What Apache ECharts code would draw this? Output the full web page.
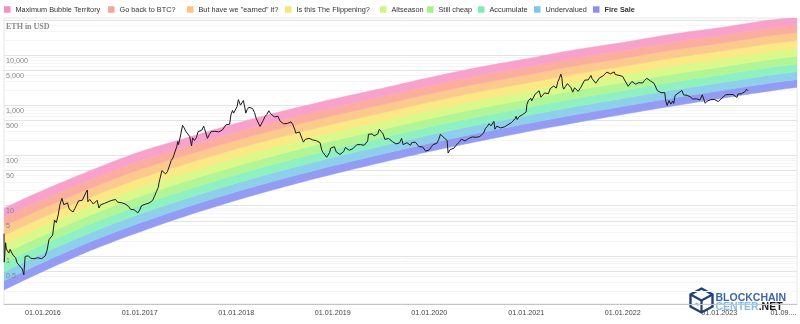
<!DOCTYPE html>
<html><head><meta charset="utf-8">
<script src="https://cdn.jsdelivr.net/npm/echarts@6/dist/echarts.min.js"></script>
<style>html,body{margin:0;padding:0;background:#fff}#c{width:800px;height:324px}</style>
</head><body><div id="c"></div>
<script>
// ---- data ----
const bandNames = ['Maximum Bubble Territory','Go back to BTC?','But have we "earned" it?','Is this The Flippening?','Altseason','Still cheap','Accumulate','Undervalued','Fire Sale'];
const bandColors = ['#f7a1cb','#fbae9d','#fdca8e','#fbe985','#dbf88a','#b2f596','#8ff0c0','#8ecfeb','#939cf2'];
const legendColors = ['#f190c1','#f9a696','#fbc482','#f8e37c','#cff582','#a3f389','#82ebb5','#80c5ea','#8a90f0'];
const bandDates = ['2015-08-07','2016-01-01','2016-07-01','2017-01-01','2017-07-01','2018-01-01','2018-07-01','2019-01-01','2019-07-01','2020-01-01','2020-07-01','2021-01-01','2021-07-01','2022-01-01','2022-07-01','2023-01-01','2023-07-01','2023-10-22'];
const bandLow  = [0.21,0.49,1.29,3.0,6.4,12.8,23.8,42.5,72,120,190,296,445,658,953,1355,1897,2291];
const bandHigh = [9.0,20.2,50.6,118,228,438,778,1326,2149,3576,5677,8436,12683,17898,25922,35095,49132,56817];
const yTickValues = [0.5,1,5,10,50,100,500,1000,5000,10000,50000];
const yTickLabels = ['0.5','1','5','10','50','100','500','1,000','5,000','10,000',''];
const yMinorValues = [0.2,0.3,0.4,0.6,0.7,0.8,0.9,2,3,4,6,7,8,9,20,30,40,60,70,80,90,200,300,400,600,700,800,900,2000,3000,4000,6000,7000,8000,9000,20000,30000,40000];
const xTickDates = ['2016-01-01','2017-01-01','2018-01-01','2019-01-01','2020-01-01','2021-01-01','2022-01-01','2023-01-01','2023-09-01'];
const xTickLabels = ['01.01.2016','01.01.2017','01.01.2018','01.01.2019','01.01.2020','01.01.2021','01.01.2022','01.01.2023','01.09....'];
const ethPrice = [
['2015-08-07',2.77],['2015-08-08',0.75],['2015-08-10',0.71],['2015-08-13',1.83],['2015-08-16',1.37],['2015-08-20',1.44],['2015-08-25',1.14],['2015-08-30',1.35],
['2015-09-05',1.33],['2015-09-10',1.03],['2015-09-15',0.94],['2015-09-20',0.92],['2015-09-25',0.73],['2015-09-30',0.73],
['2015-10-05',0.63],['2015-10-10',0.62],['2015-10-15',0.55],['2015-10-21',0.42],['2015-10-26',0.98],
['2015-11-01',1.05],['2015-11-08',1.00],['2015-11-15',0.90],['2015-11-22',0.95],['2015-11-29',0.88],
['2015-12-06',0.84],['2015-12-13',0.92],['2015-12-20',0.86],['2015-12-27',0.88],
['2016-01-03',0.95],['2016-01-10',1.00],['2016-01-17',1.30],['2016-01-24',2.10],['2016-01-31',2.30],
['2016-02-07',2.60],['2016-02-14',5.20],['2016-02-21',4.60],['2016-02-28',6.60],
['2016-03-06',10.8],['2016-03-13',14.0],['2016-03-20',10.5],['2016-03-27',11.3],
['2016-04-03',11.4],['2016-04-10',8.5],['2016-04-17',8.2],['2016-04-24',7.5],
['2016-05-01',8.8],['2016-05-08',9.5],['2016-05-15',12.5],['2016-05-22',13.2],['2016-05-29',12.8],
['2016-06-05',13.8],['2016-06-12',18.5],['2016-06-17',20.5],['2016-06-19',12.0],['2016-06-26',13.3],
['2016-07-03',12.0],['2016-07-10',10.8],['2016-07-17',11.8],['2016-07-24',12.8],['2016-07-31',9.0],
['2016-08-07',10.5],['2016-08-14',11.2],['2016-08-21',11.1],['2016-08-28',11.3],
['2016-09-04',12.0],['2016-09-11',11.9],['2016-09-18',12.8],['2016-09-25',13.0],
['2016-10-02',13.3],['2016-10-09',11.8],['2016-10-16',12.0],['2016-10-23',11.5],['2016-10-30',10.8],
['2016-11-06',10.9],['2016-11-13',10.0],['2016-11-20',9.7],['2016-11-27',8.5],
['2016-12-04',7.9],['2016-12-11',8.3],['2016-12-18',7.8],['2016-12-25',7.2],
['2017-01-01',8.2],['2017-01-08',10.0],['2017-01-15',9.8],['2017-01-22',10.7],['2017-01-29',10.5],
['2017-02-05',11.3],['2017-02-12',11.4],['2017-02-19',12.7],['2017-02-26',15.5],
['2017-03-05',19.0],['2017-03-12',23.0],['2017-03-15',28.5],['2017-03-19',35],['2017-03-26',50],
['2017-04-02',50],['2017-04-09',43],['2017-04-16',48],['2017-04-23',49],['2017-04-30',79],
['2017-05-07',91],['2017-05-14',88],['2017-05-21',150],['2017-05-25',190],['2017-05-28',165],
['2017-06-04',245],['2017-06-12',400],['2017-06-18',355],['2017-06-25',300],
['2017-07-02',280],['2017-07-09',240],['2017-07-16',155],['2017-07-20',225],['2017-07-27',200],
['2017-08-03',225],['2017-08-10',300],['2017-08-17',305],['2017-08-24',320],['2017-08-31',385],
['2017-09-03',345],['2017-09-14',220],['2017-09-21',260],['2017-09-28',300],
['2017-10-05',295],['2017-10-12',305],['2017-10-19',315],['2017-10-26',295],
['2017-11-02',290],['2017-11-09',320],['2017-11-16',330],['2017-11-23',410],['2017-11-30',440],
['2017-12-07',420],['2017-12-12',650],['2017-12-18',790],['2017-12-22',700],['2017-12-28',740],
['2018-01-04',940],['2018-01-09',1300],['2018-01-13',1390],['2018-01-17',1010],['2018-01-21',1050],['2018-01-28',1250],
['2018-02-02',920],['2018-02-06',700],['2018-02-11',820],['2018-02-18',920],['2018-02-25',850],
['2018-03-04',860],['2018-03-11',720],['2018-03-18',540],['2018-03-25',520],
['2018-04-01',380],['2018-04-06',385],['2018-04-13',500],['2018-04-20',600],['2018-04-27',660],
['2018-05-04',780],['2018-05-11',680],['2018-05-18',695],['2018-05-25',590],
['2018-06-01',580],['2018-06-08',605],['2018-06-15',490],['2018-06-22',470],['2018-06-29',430],
['2018-07-06',465],['2018-07-13',435],['2018-07-20',465],['2018-07-27',470],
['2018-08-03',410],['2018-08-10',335],['2018-08-14',280],['2018-08-21',280],['2018-08-28',295],
['2018-09-04',285],['2018-09-12',185],['2018-09-19',210],['2018-09-26',215],
['2018-10-03',220],['2018-10-10',225],['2018-10-17',205],['2018-10-24',205],['2018-10-31',197],
['2018-11-07',215],['2018-11-14',180],['2018-11-20',130],['2018-11-25',115],
['2018-12-02',115],['2018-12-09',92],['2018-12-15',84],['2018-12-20',115],['2018-12-24',140],['2018-12-31',133],
['2019-01-07',150],['2019-01-14',118],['2019-01-21',117],['2019-01-28',105],
['2019-02-04',108],['2019-02-11',120],['2019-02-18',145],['2019-02-25',136],
['2019-03-04',127],['2019-03-11',134],['2019-03-18',137],['2019-03-25',136],
['2019-04-02',165],['2019-04-09',178],['2019-04-16',165],['2019-04-23',170],['2019-04-30',160],
['2019-05-07',170],['2019-05-13',195],['2019-05-16',265],['2019-05-23',245],['2019-05-30',270],
['2019-06-06',245],['2019-06-13',255],['2019-06-20',270],['2019-06-26',335],
['2019-07-03',300],['2019-07-10',270],['2019-07-17',210],['2019-07-24',215],['2019-07-31',218],
['2019-08-07',225],['2019-08-14',190],['2019-08-21',185],['2019-08-28',170],
['2019-09-04',175],['2019-09-11',180],['2019-09-18',220],['2019-09-24',165],
['2019-10-01',180],['2019-10-08',180],['2019-10-15',180],['2019-10-22',160],['2019-10-26',180],
['2019-11-02',183],['2019-11-09',185],['2019-11-16',185],['2019-11-23',150],['2019-11-30',152],
['2019-12-07',148],['2019-12-14',142],['2019-12-18',122],['2019-12-25',125],
['2020-01-01',130],['2020-01-08',141],['2020-01-15',165],['2020-01-22',168],['2020-01-29',175],
['2020-02-05',205],['2020-02-12',265],['2020-02-15',285],['2020-02-19',260],['2020-02-26',225],
['2020-03-04',225],['2020-03-08',200],['2020-03-12',112],['2020-03-16',110],['2020-03-20',132],['2020-03-27',130],
['2020-04-03',140],['2020-04-10',158],['2020-04-17',172],['2020-04-24',187],
['2020-05-01',212],['2020-05-08',212],['2020-05-15',195],['2020-05-22',207],['2020-05-29',220],
['2020-06-05',240],['2020-06-12',235],['2020-06-19',230],['2020-06-26',230],
['2020-07-03',225],['2020-07-10',240],['2020-07-17',233],['2020-07-24',280],['2020-07-31',345],
['2020-08-07',380],['2020-08-14',430],['2020-08-21',390],['2020-08-28',395],
['2020-09-01',480],['2020-09-05',335],['2020-09-12',385],['2020-09-19',385],['2020-09-26',355],
['2020-10-03',345],['2020-10-10',370],['2020-10-17',370],['2020-10-24',410],['2020-10-31',385],
['2020-11-07',455],['2020-11-14',465],['2020-11-21',550],['2020-11-24',605],['2020-11-28',520],
['2020-12-05',595],['2020-12-12',560],['2020-12-19',655],['2020-12-26',680],
['2021-01-01',735],['2021-01-04',1040],['2021-01-10',1260],['2021-01-14',1230],['2021-01-19',1380],['2021-01-22',1230],['2021-01-28',1330],
['2021-02-04',1670],['2021-02-11',1780],['2021-02-19',1950],['2021-02-26',1450],
['2021-03-05',1530],['2021-03-12',1770],['2021-03-19',1800],['2021-03-26',1700],
['2021-04-02',2140],['2021-04-09',2070],['2021-04-15',2430],['2021-04-22',2400],['2021-04-25',2210],
['2021-05-01',2950],['2021-05-07',3480],['2021-05-12',4170],['2021-05-16',3580],['2021-05-19',2420],['2021-05-23',2100],['2021-05-30',2390],
['2021-06-06',2710],['2021-06-13',2500],['2021-06-20',2240],['2021-06-26',1830],
['2021-07-03',2230],['2021-07-10',2140],['2021-07-17',1900],['2021-07-20',1790],['2021-07-27',2300],
['2021-08-03',2500],['2021-08-10',3160],['2021-08-17',3010],['2021-08-24',3230],['2021-08-31',3430],
['2021-09-03',3940],['2021-09-07',3430],['2021-09-14',3430],['2021-09-21',2760],['2021-09-28',2850],
['2021-10-05',3520],['2021-10-12',3500],['2021-10-19',3870],['2021-10-26',4130],
['2021-11-02',4590],['2021-11-09',4730],['2021-11-16',4250],['2021-11-23',4330],['2021-11-30',4630],
['2021-12-04',4100],['2021-12-11',4080],['2021-12-18',3960],['2021-12-25',4050],
['2022-01-01',3770],['2022-01-08',3200],['2022-01-15',3330],['2022-01-22',2400],['2022-01-29',2600],
['2022-02-05',3000],['2022-02-12',2900],['2022-02-19',2630],['2022-02-24',2600],
['2022-03-03',2830],['2022-03-10',2620],['2022-03-17',2780],['2022-03-24',3110],
['2022-04-02',3450],['2022-04-09',3260],['2022-04-16',3060],['2022-04-23',2930],['2022-04-30',2730],
['2022-05-07',2640],['2022-05-12',1960],['2022-05-19',2020],['2022-05-26',1790],
['2022-06-02',1830],['2022-06-09',1790],['2022-06-13',1210],['2022-06-18',995],['2022-06-25',1240],
['2022-07-02',1060],['2022-07-09',1220],['2022-07-13',1090],['2022-07-18',1570],['2022-07-25',1440],['2022-07-29',1740],
['2022-08-05',1700],['2022-08-13',1980],['2022-08-19',1620],['2022-08-26',1510],
['2022-09-02',1580],['2022-09-09',1720],['2022-09-15',1470],['2022-09-22',1330],['2022-09-29',1330],
['2022-10-06',1350],['2022-10-13',1290],['2022-10-20',1280],['2022-10-29',1620],
['2022-11-05',1630],['2022-11-09',1100],['2022-11-16',1210],['2022-11-23',1180],['2022-11-30',1300],
['2022-12-07',1230],['2022-12-14',1310],['2022-12-21',1210],['2022-12-28',1190],
['2023-01-04',1250],['2023-01-11',1390],['2023-01-18',1510],['2023-01-25',1620],
['2023-02-01',1640],['2023-02-08',1650],['2023-02-15',1690],['2023-02-22',1640],
['2023-03-01',1660],['2023-03-09',1440],['2023-03-13',1680],['2023-03-20',1740],['2023-03-27',1710],
['2023-04-03',1800],['2023-04-10',1910],['2023-04-14',2100],['2023-04-18',2080],['2023-04-20',1950]
];

// ---- build ----
const ts = s => new Date(s + 'T00:00:00').getTime();
const nBands = bandNames.length;
const edges = [];
for (let k = 0; k <= nBands; k++) {
  edges.push(bandLow.map((lo, i) => lo * Math.pow(bandHigh[i] / lo, k / nBands)));
}
const labelMap = {};
xTickDates.forEach((d, i) => { labelMap[ts(d)] = xTickLabels[i]; });

const gridLines = [];
yMinorValues.forEach(v => gridLines.push({ yAxis: v, lineStyle: { color: '#f5f5f5' } }));
yTickValues.forEach(v => gridLines.push({ yAxis: v, lineStyle: { color: '#e3e3e3' } }));
const tickLabels = yTickValues.filter((v, i) => yTickLabels[i] !== '').map((v, i) => ({ yAxis: v, label: { formatter: yTickLabels[i] } }));

// Catmull-Rom smoothing in pixel space
function smoothPts(pts, steps) {
  const out = [];
  const n = pts.length;
  for (let i = 0; i < n - 1; i++) {
    const p0 = pts[Math.max(i - 1, 0)], p1 = pts[i], p2 = pts[i + 1], p3 = pts[Math.min(i + 2, n - 1)];
    for (let s = 0; s < steps; s++) {
      const t = s / steps, t2 = t * t, t3 = t2 * t;
      out.push([0, 1].map(d => 0.5 * ((2 * p1[d]) + (-p0[d] + p2[d]) * t + (2 * p0[d] - 5 * p1[d] + 4 * p2[d] - p3[d]) * t2 + (-p0[d] + 3 * p1[d] - 3 * p2[d] + p3[d]) * t3)));
    }
  }
  out.push(pts[n - 1]);
  return out;
}

const span = [[ts(bandDates[0]), 1], [ts(bandDates[bandDates.length - 1]), 1]];
const series = [{
  name: '_grid', type: 'line', symbol: 'none', silent: true, z: 0,
  lineStyle: { opacity: 0 }, data: span,
  markLine: {
    z: 0, silent: true, symbol: 'none', animation: false,
    lineStyle: { type: 'solid', width: 1 },
    label: { show: false },
    data: gridLines
  }
}, {
  name: '_ticks', type: 'line', symbol: 'none', silent: true, z: 8,
  lineStyle: { opacity: 0 }, data: span,
  markLine: {
    z: 8, silent: true, symbol: 'none', animation: false,
    lineStyle: { type: 'solid', width: 1, color: 'rgba(255,255,255,0)' },
    label: { show: true, position: 'insideStartBottom', distance: [2, 2], color: '#888', fontSize: 7.2, fontFamily: 'Liberation Sans, Arial, sans-serif' },
    data: tickLabels
  }
}];
for (let j = 0; j < nBands; j++) {
  const idx = nBands - 1 - j;
  series.push({
    name: bandNames[idx], type: 'custom', silent: true, z: 2, clip: true,
    itemStyle: { color: legendColors[idx] },
    data: [[ts(bandDates[0]), edges[j][0]]],
    renderItem: (params, api) => {
      const up = smoothPts(bandDates.map((d, i) => api.coord([ts(d), edges[j + 1][i]])), 12);
      const lo = smoothPts(bandDates.map((d, i) => api.coord([ts(d), edges[j][i]])), 12);
      return { type: 'polygon', shape: { points: up.concat(lo.reverse()) }, style: { fill: bandColors[idx], stroke: bandColors[idx], lineWidth: 0.5 } };
    }
  });
}
series.push({
  name: 'ETH', type: 'line', symbol: 'none', z: 5, silent: true,
  lineStyle: { color: '#1a1a1a', width: 1 },
  data: ethPrice.map(p => [ts(p[0]), p[1]])
});

const legendLeft = [4, 108, 187, 285, 380, 427, 478, 534, 593];
const legends = bandNames.map((n, i) => ({
  left: legendLeft[i], top: 6, padding: 0, selectedMode: false,
  icon: 'rect', itemWidth: 6.5, itemHeight: 6.5,
  textStyle: { fontSize: 7.3, color: '#333', fontFamily: 'Liberation Sans, Arial, sans-serif' },
  data: [{ name: n, itemStyle: { color: legendColors[i] }, textStyle: i === nBands - 1 ? { fontWeight: 'bold' } : {} }]
}));

const chart = echarts.init(document.getElementById('c'), null, { renderer: 'canvas' });
chart.setOption({
  animation: false,
  backgroundColor: '#fff',
  legend: legends,
  grid: { left: 4, right: 3, top: 18, bottom: 20, show: true, borderColor: '#e6e6e6', borderWidth: 1 },
  xAxis: {
    type: 'value', min: ts('2015-08-07'), max: ts('2023-10-22'),
    axisLine: { lineStyle: { color: '#c4c4c4' } },
    axisTick: { show: false },
    splitLine: { show: false },
    axisLabel: {
      customValues: xTickDates.map(ts),
      margin: 6, fontSize: 7.2, color: '#444', fontFamily: 'Liberation Sans, Arial, sans-serif',
      formatter: v => labelMap[v] || ''
    }
  },
  yAxis: {
    type: 'log', logBase: 10, min: 0.11, max: 55000,
    axisLine: { show: false }, axisTick: { show: false }, axisLabel: { show: false },
    splitLine: { show: false }
  },
  graphic: [
    { type: 'text', left: 6, top: 23, z: 10, style: { text: 'ETH in USD', fill: '#888', font: 'bold 8px "Liberation Serif", "DejaVu Serif", serif' } },
    { type: 'group', left: 688, top: 286, z: 10, children: [
      { type: 'polygon', shape: { points: [[12,1],[23,7],[23,19],[12,25],[1,19],[1,7]] }, style: { fill: 'none', stroke: '#21407c', lineWidth: 2.4 } },
      { type: 'polyline', shape: { points: [[1,7],[12,13],[23,7]] }, style: { stroke: '#21407c', lineWidth: 2.2, fill: 'none' } },
      { type: 'polyline', shape: { points: [[12,13],[12,25]] }, style: { stroke: '#21407c', lineWidth: 2.2, fill: 'none' } },
      { type: 'polyline', shape: { points: [[6,16],[9,17.5]] }, style: { stroke: '#6fb3e6', lineWidth: 2, fill: 'none' } },
      { type: 'text', x: 26, y: 5, style: { text: 'BLOCKCHAIN', fill: '#3e64ad', font: 'bold 10.5px "Liberation Sans", Arial, sans-serif' } },
      { type: 'text', x: 26, y: 14, style: { text: '{a|CENTER}{b|.NET}', rich: {
        a: { fill: '#84bde9', font: 'bold 10.5px "Liberation Sans", Arial, sans-serif' },
        b: { fill: '#1c1c1c', font: 'bold 10.5px "Liberation Sans", Arial, sans-serif' } } } }
    ] }
  ],
  series: series
});
</script>
</body></html>
